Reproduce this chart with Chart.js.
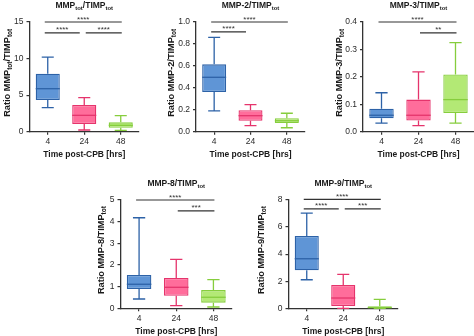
<!DOCTYPE html>
<html>
<head>
<meta charset="utf-8">
<script src="https://cdn.jsdelivr.net/npm/chart.js@4"></script>
<style>
  html, body { margin: 0; padding: 0; background: #fff; }
  #wrap { position: relative; width: 474px; height: 336px; overflow: hidden; background: #fff; }
  #wrap canvas { position: absolute; left: 0; top: 0; }
</style>
</head>
<body>
<div id="wrap"></div>
<script>
// Sampling times after cardiopulmonary bypass (hours)
const timepoints = ['4', '24', '48'];
const xAxisTitle = 'Time post-CPB [hrs]';

// MMPtot / TIMPtot
const totMin = [3.28, 0.23, 0.18];
const totQ1  = [4.34, 1.05, 0.55];
const totMed = [5.88, 2.24, 0.87];
const totQ3  = [7.93, 3.65, 1.28];
const totMax = [10.2, 4.65, 2.19];
const totSigFrom  = [0, 0, 1];
const totSigTo    = [2, 1, 2];
const totSigY     = [15, 13.5, 13.5];
const totSigLabel = ['****', '****', '****'];

// MMP-2 / TIMPtot
const mmp2Min = [0.189, 0.055, 0.036];
const mmp2Q1  = [0.362, 0.100, 0.079];
const mmp2Med = [0.496, 0.146, 0.100];
const mmp2Q3  = [0.614, 0.195, 0.122];
const mmp2Max = [0.860, 0.246, 0.168];
const mmp2SigFrom  = [0, 0];
const mmp2SigTo    = [2, 1];
const mmp2SigY     = [1.0, 0.91];
const mmp2SigLabel = ['****', '****'];

// MMP-3 / TIMPtot
const mmp3Min = [0.031, 0.022, 0.031];
const mmp3Q1  = [0.049, 0.041, 0.068];
const mmp3Med = [0.060, 0.060, 0.117];
const mmp3Q3  = [0.084, 0.117, 0.209];
const mmp3Max = [0.142, 0.218, 0.325];
const mmp3SigFrom  = [0, 1];
const mmp3SigTo    = [2, 2];
const mmp3SigY     = [0.4, 0.36];
const mmp3SigLabel = ['****', '**'];

// MMP-8 / TIMPtot
const mmp8Min = [0.43, 0.12, 0.06];
const mmp8Q1  = [0.89, 0.58, 0.26];
const mmp8Med = [1.11, 0.97, 0.51];
const mmp8Q3  = [1.54, 1.40, 0.84];
const mmp8Max = [4.18, 2.26, 1.32];
const mmp8SigFrom  = [0, 1];
const mmp8SigTo    = [2, 2];
const mmp8SigY     = [5.0, 4.5];
const mmp8SigLabel = ['****', '***'];

// MMP-9 / TIMPtot
const mmp9Min = [2.11, 0.0, 0.0];
const mmp9Q1  = [2.81, 0.17, 0.0];
const mmp9Med = [3.66, 0.76, 0.05];
const mmp9Q3  = [5.34, 1.72, 0.15];
const mmp9Max = [7.03, 2.51, 0.66];
const mmp9SigFrom  = [0, 0, 1];
const mmp9SigTo    = [2, 1, 2];
const mmp9SigY     = [8.05, 7.35, 7.35];
const mmp9SigLabel = ['****', '****', '***'];

// Per-timepoint colours
const boxFill   = ['#5f95d6', '#ff6d9b', '#b3e975'];
const boxStroke = ['#2d62a7', '#e5346c', '#86cd3d'];

const FONT = '"Liberation Sans", Arial, Helvetica, sans-serif';
const INK = '#2b2b2b';
const W = 474, H = 336;
const Y_AXIS_W = 22, X_AXIS_H = 16;

// Split "MMP_{tot}/TIMP_{tot}" into normal and subscript runs
function parseRich(str) {
  const parts = [];
  const re = /_\{([^}]*)\}/g;
  let last = 0, m;
  while ((m = re.exec(str)) !== null) {
    if (m.index > last) parts.push({ t: str.slice(last, m.index), sub: false });
    parts.push({ t: m[1], sub: true });
    last = re.lastIndex;
  }
  if (last < str.length) parts.push({ t: str.slice(last), sub: false });
  return parts;
}

function drawRich(ctx, str, x, y, size) {
  const parts = parseRich(str);
  const subSize = size * 0.7;
  let w = 0;
  for (const p of parts) {
    ctx.font = 'bold ' + (p.sub ? subSize : size) + 'px ' + FONT;
    p.w = ctx.measureText(p.t).width;
    w += p.w;
  }
  let cx = x - w / 2;
  ctx.textAlign = 'left';
  ctx.textBaseline = 'alphabetic';
  for (const p of parts) {
    ctx.font = 'bold ' + (p.sub ? subSize : size) + 'px ' + FONT;
    ctx.fillText(p.t, cx, p.sub ? y + size * 0.3 : y);
    cx += p.w;
  }
}

// Whiskers, caps and medians drawn through the chart's own scales
const boxWhiskerPlugin = {
  id: 'boxWhisker',
  beforeDatasetsDraw(chart) {
    const st = chart.options.plugins.boxWhisker;
    const ys = chart.scales.y;
    const ctx = chart.ctx;
    const meta = chart.getDatasetMeta(0);
    ctx.save();
    ctx.lineWidth = 1.3;
    meta.data.forEach((bar, i) => {
      const { x, width } = bar.getProps(['x', 'width'], true);
      const cap = width * 0.25;
      const yMin = ys.getPixelForValue(st.min[i]);
      const yMax = ys.getPixelForValue(st.max[i]);
      const yQ1 = ys.getPixelForValue(st.q1[i]);
      const yQ3 = ys.getPixelForValue(st.q3[i]);
      ctx.strokeStyle = boxStroke[i];
      ctx.beginPath();
      ctx.moveTo(x, yQ3); ctx.lineTo(x, yMax);
      ctx.moveTo(x - cap, yMax); ctx.lineTo(x + cap, yMax);
      ctx.moveTo(x, yQ1); ctx.lineTo(x, yMin);
      ctx.moveTo(x - cap, yMin); ctx.lineTo(x + cap, yMin);
      ctx.stroke();
    });
    ctx.restore();
  },
  afterDatasetsDraw(chart) {
    const st = chart.options.plugins.boxWhisker;
    const ys = chart.scales.y;
    const ctx = chart.ctx;
    const meta = chart.getDatasetMeta(0);
    ctx.save();
    ctx.lineWidth = 1.3;
    meta.data.forEach((bar, i) => {
      const { x, width } = bar.getProps(['x', 'width'], true);
      const yMed = ys.getPixelForValue(st.med[i]);
      ctx.strokeStyle = boxStroke[i];
      ctx.beginPath();
      ctx.moveTo(x - width / 2, yMed); ctx.lineTo(x + width / 2, yMed);
      ctx.stroke();
    });
    ctx.restore();
  }
};

// Significance brackets, panel title and axis titles
const annotatePlugin = {
  id: 'annotate',
  afterDraw(chart) {
    const a = chart.options.plugins.annotate;
    const xs = chart.scales.x, ys = chart.scales.y;
    const area = chart.chartArea;
    const ctx = chart.ctx;
    const last = timepoints.length - 1;
    ctx.save();
    ctx.strokeStyle = '#333';
    ctx.fillStyle = '#333';
    ctx.lineWidth = 1.2;
    for (let k = 0; k < a.sigFrom.length; k++) {
      const f = a.sigFrom[k], t = a.sigTo[k];
      const x1 = f === 0 ? xs.getPixelForValue(f) - 3 : xs.getPixelForValue(f) + 1.5;
      const x2 = t === last ? xs.getPixelForValue(t) + 1 : xs.getPixelForValue(t) - 4.5;
      const y = ys.getPixelForValue(a.sigY[k]);
      ctx.beginPath();
      ctx.moveTo(x1, y); ctx.lineTo(x2, y);
      ctx.stroke();
      ctx.font = '8px ' + FONT;
      ctx.textAlign = 'center';
      ctx.textBaseline = 'alphabetic';
      ctx.fillText(a.sigLabel[k], (x1 + x2) / 2, y - 0.5);
    }
    ctx.fillStyle = '#1a1a1a';
    const cx = (area.left + area.right) / 2;
    drawRich(ctx, a.title, cx, area.top - 14.5, 8.5);
    drawRich(ctx, xAxisTitle, cx, area.bottom + 25.5, 8.5);
    ctx.translate(a.yTitleX, (area.top + area.bottom) / 2 - 4);
    ctx.rotate(-Math.PI / 2);
    drawRich(ctx, a.yTitle, 0, 3.5, 9.2);
    ctx.restore();
  }
};

function makePanel(p) {
  const canvas = document.createElement('canvas');
  canvas.width = W; canvas.height = H;
  canvas.style.width = W + 'px'; canvas.style.height = H + 'px';
  document.getElementById('wrap').appendChild(canvas);
  const tickFont = { family: FONT, size: 8.5 };
  new Chart(canvas, {
    type: 'bar',
    data: {
      labels: timepoints,
      datasets: [{
        data: p.q1.map((v, i) => [v, p.q3[i]]),
        backgroundColor: boxFill,
        borderColor: boxStroke,
        borderWidth: 1.3,
        borderSkipped: false,
        barPercentage: 0.66,
        categoryPercentage: 1
      }]
    },
    options: {
      responsive: false,
      animation: false,
      devicePixelRatio: 1,
      events: [],
      layout: {
        padding: {
          left: p.area[0] - Y_AXIS_W,
          right: W - p.area[1],
          top: p.area[2],
          bottom: H - p.area[3] - X_AXIS_H
        }
      },
      plugins: {
        legend: { display: false },
        tooltip: { enabled: false },
        boxWhisker: { min: p.min, q1: p.q1, med: p.med, q3: p.q3, max: p.max },
        annotate: {
          title: p.title, yTitle: p.yTitle, yTitleX: p.yTitleX,
          sigFrom: p.sigFrom, sigTo: p.sigTo, sigY: p.sigY, sigLabel: p.sigLabel
        }
      },
      scales: {
        x: {
          offset: true,
          grid: { offset: false, drawOnChartArea: false, drawTicks: true, tickLength: 3, color: '#333', lineWidth: 1.2 },
          border: { color: '#333', width: 1.3 },
          ticks: { font: tickFont, color: INK, padding: 2, maxRotation: 0 },
          afterFit(s) { s.height = X_AXIS_H; }
        },
        y: {
          min: p.yMin, max: p.yMax,
          grid: { drawOnChartArea: false, drawTicks: true, tickLength: 3, color: '#333', lineWidth: 1.2 },
          border: { color: '#333', width: 1.3 },
          ticks: {
            stepSize: p.yStep,
            font: tickFont, color: INK, padding: 3,
            callback: (v) => p.yDigits ? Number(v).toFixed(p.yDigits) : String(v)
          },
          afterFit(s) { s.width = Y_AXIS_W; }
        }
      }
    },
    plugins: [boxWhiskerPlugin, annotatePlugin]
  });
}

makePanel({
  area: [29.5, 139, 22, 131.7], yMin: 0, yMax: 15, yStep: 5, yDigits: 0,
  title: 'MMP_{tot}/TIMP_{tot}', yTitle: 'Ratio MMP_{tot}/TIMP_{tot}', yTitleX: 6,
  min: totMin, q1: totQ1, med: totMed, q3: totQ3, max: totMax,
  sigFrom: totSigFrom, sigTo: totSigTo, sigY: totSigY, sigLabel: totSigLabel
});
makePanel({
  area: [196, 305, 22, 131.7], yMin: 0, yMax: 1.0, yStep: 0.2, yDigits: 1,
  title: 'MMP-2/TIMP_{tot}', yTitle: 'Ratio MMP-2/TIMP_{tot}', yTitleX: 170,
  min: mmp2Min, q1: mmp2Q1, med: mmp2Med, q3: mmp2Q3, max: mmp2Max,
  sigFrom: mmp2SigFrom, sigTo: mmp2SigTo, sigY: mmp2SigY, sigLabel: mmp2SigLabel
});
makePanel({
  area: [363, 474, 22, 131.7], yMin: 0, yMax: 0.4, yStep: 0.1, yDigits: 1,
  title: 'MMP-3/TIMP_{tot}', yTitle: 'Ratio MMP-3/TIMP_{tot}', yTitleX: 338,
  min: mmp3Min, q1: mmp3Q1, med: mmp3Med, q3: mmp3Q3, max: mmp3Max,
  sigFrom: mmp3SigFrom, sigTo: mmp3SigTo, sigY: mmp3SigY, sigLabel: mmp3SigLabel
});
makePanel({
  area: [120.5, 232, 200, 308.3], yMin: 0, yMax: 5, yStep: 1, yDigits: 0,
  title: 'MMP-8/TIMP_{tot}', yTitle: 'Ratio MMP-8/TIMP_{tot}', yTitleX: 100,
  min: mmp8Min, q1: mmp8Q1, med: mmp8Med, q3: mmp8Q3, max: mmp8Max,
  sigFrom: mmp8SigFrom, sigTo: mmp8SigTo, sigY: mmp8SigY, sigLabel: mmp8SigLabel
});
makePanel({
  area: [288.5, 398, 200, 308.3], yMin: 0, yMax: 8, yStep: 2, yDigits: 0,
  title: 'MMP-9/TIMP_{tot}', yTitle: 'Ratio MMP-9/TIMP_{tot}', yTitleX: 260,
  min: mmp9Min, q1: mmp9Q1, med: mmp9Med, q3: mmp9Q3, max: mmp9Max,
  sigFrom: mmp9SigFrom, sigTo: mmp9SigTo, sigY: mmp9SigY, sigLabel: mmp9SigLabel
});
</script>
</body>
</html>
